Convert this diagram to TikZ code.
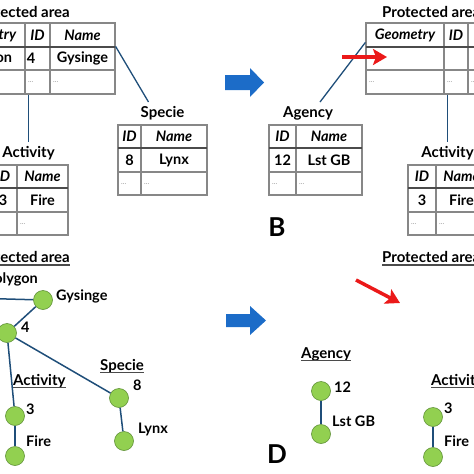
\documentclass[tikz,border=0pt]{standalone}
\usepackage{fontspec}
\setmainfont{Lato}
\usetikzlibrary{arrows.meta}

\definecolor{tblgray}{RGB}{135,135,135}
\definecolor{hdgray}{RGB}{75,75,75}
\definecolor{linkblue}{RGB}{31,78,121}
\definecolor{blockblue}{RGB}{28,108,200}
\definecolor{leafgreen}{RGB}{146,208,80}
\definecolor{leafedge}{RGB}{95,145,55}
\definecolor{arrred}{RGB}{235,25,25}

\tikzset{
	tbl/.style={draw=tblgray, line width=1.2pt, inner sep=0pt},
	grid/.style={draw=tblgray, line width=1.2pt},
	hdline/.style={draw=hdgray, line width=1.8pt},
	ttl/.style={font=\fontsize{15}{17}\selectfont\bfseries, inner sep=0pt},
	hd/.style={font=\fontsize{14.5}{16}\selectfont\bfseries\itshape, inner sep=0pt},
	cell/.style={font=\fontsize{14.5}{16}\selectfont\bfseries, inner sep=0pt},
	dots/.style={font=\fontsize{7}{8}\selectfont, text=tblgray, inner sep=0pt, anchor=west},
	conn/.style={draw=linkblue, line width=1.3pt},
	vert/.style={circle, fill=leafgreen, draw=leafedge, line width=0.6pt, minimum size=19pt, inner sep=0pt},
	edge/.style={draw=linkblue, line width=1.5pt},
	lbl/.style={font=\fontsize{14.5}{16}\selectfont\bfseries, inner sep=0pt, anchor=west},
	uline/.style={draw=hdgray, line width=1.2pt},
	bigarrow/.style={fill=blockblue},
	redarrow/.style={draw=arrred, line width=3.5pt, -{Triangle[length=14pt,width=16pt,inset=3pt]}},
	panel/.style={font=\fontsize{26}{28}\selectfont\bfseries, inner sep=0pt},
}

\begin{document}
\begin{tikzpicture}[x=1pt,y=-1pt]
	\useasboundingbox (0,0) rectangle (474,474);
	\clip (0,0) rectangle (474,474);

	% A: tables
	\node[tbl, minimum width=168pt, minimum height=71pt] (paA) at (31,58.5) {};
	\draw[grid] (25,23) -- (25,94) (50,23) -- (50,94) (-53,70) -- (115,70);
	\draw[hdline] (-53,47) -- (115,47);
	\node[ttl, anchor=east] (paAt) at (70,12) {Protected area};
	\node[hd] (paAg) at (-14,35) {Geometry};
	\node[hd] (paAi) at (37.5,35) {ID};
	\node[hd] (paAn) at (82.5,35) {Name};
	\node[cell] (paAv1) at (-14,58.5) {Polygon};
	\node[cell] (paAv2) at (31,58.5) {4};
	\node[cell] (paAv3) at (82.5,58.5) {Gysinge};
	\node[dots] (paAd1) at (-50,82) {...};
	\node[dots] (paAd2) at (28,82) {...};
	\node[dots] (paAd3) at (53,82) {...};

	\node[tbl, minimum width=89pt, minimum height=70pt] (spA) at (162.5,160) {};
	\draw[grid] (141,125) -- (141,195) (118,172) -- (207,172);
	\draw[hdline] (118,148) -- (207,148);
	\node[ttl] (spAt) at (162.5,113) {Specie};
	\node[hd] (spAi) at (129.5,136.5) {ID};
	\node[hd] (spAn) at (174,136.5) {Name};
	\node[cell] (spAv1) at (129.5,160) {8};
	\node[cell] (spAv2) at (174,160) {Lynx};
	\node[dots] (spAd1) at (121,184) {...};
	\node[dots] (spAd2) at (144,184) {...};

	\node[tbl, minimum width=79pt, minimum height=70pt] (acA) at (28.5,200) {};
	\draw[grid] (17,165) -- (17,235) (-11,212) -- (68,212);
	\draw[hdline] (-11,188) -- (68,188);
	\node[ttl] (acAt) at (28.5,153) {Activity};
	\node[hd] (acAi) at (3,176.5) {ID};
	\node[hd] (acAn) at (42.5,176.5) {Name};
	\node[cell] (acAv1) at (3,200) {3};
	\node[cell] (acAv2) at (42.5,200) {Fire};
	\node[dots] (acAd1) at (-8,224) {...};
	\node[dots] (acAd2) at (20,224) {...};

	\draw[conn] ([yshift=-24pt]paA.north east) -- ([xshift=-14pt,yshift=4pt]spAt.north);
	\draw[conn] (paA.south -| acAt) -- ([yshift=4pt]acAt.north);

	% arrow A to B
	\fill[bigarrow] (225,75) -- (250,75) -- (250,68) -- (264,82.5) -- (250,97) -- (250,90) -- (225,90) -- cycle;

	% B: tables
	\node[tbl, minimum width=167pt, minimum height=71pt] (paB) at (449.5,58.5) {};
	\draw[grid] (444,23) -- (444,94) (468,23) -- (468,94) (366,70) -- (533,70);
	\draw[hdline] (366,47) -- (533,47);
	\node[ttl, anchor=west] (paBt) at (382,12) {Protected area};
	\node[hd] (paBg) at (405,35) {Geometry};
	\node[hd] (paBi) at (456,35) {ID};
	\node[hd] (paBn) at (500.5,35) {Name};
	\node[dots] (paBd1) at (369,82) {...};
	\node[dots] (paBd2) at (447,82) {...};
	\node[dots] (paBd3) at (471,82) {...};

	\node[tbl, minimum width=93pt, minimum height=70pt] (agB) at (315.5,160) {};
	\draw[grid] (296,125) -- (296,195) (269,172) -- (362,172);
	\draw[hdline] (269,148) -- (362,148);
	\node[ttl] (agBt) at (308,113) {Agency};
	\node[hd] (agBi) at (282.5,136.5) {ID};
	\node[hd] (agBn) at (329,136.5) {Name};
	\node[cell] (agBv1) at (282.5,160) {12};
	\node[cell] (agBv2) at (329,160) {Lst GB};
	\node[dots] (agBd1) at (272,184) {...};
	\node[dots] (agBd2) at (299,184) {...};

	\node[tbl, minimum width=79pt, minimum height=70pt] (acB) at (447.5,200) {};
	\draw[grid] (436,165) -- (436,235) (408,212) -- (487,212);
	\draw[hdline] (408,188) -- (487,188);
	\node[ttl] (acBt) at (447.5,153) {Activity};
	\node[hd] (acBi) at (422,176.5) {ID};
	\node[hd] (acBn) at (461.5,176.5) {Name};
	\node[cell] (acBv1) at (422,200) {3};
	\node[cell] (acBv2) at (461.5,200) {Fire};
	\node[dots] (acBd1) at (411,224) {...};
	\node[dots] (acBd2) at (439,224) {...};

	\draw[conn] ([xshift=12pt,yshift=4pt]agBt.north) -- ([yshift=-20pt]paB.north west);
	\draw[conn] (paB.south -| acBt) -- ([yshift=4pt]acBt.north);

	\coordinate (redB1) at (342,57);
	\coordinate (redB2) at (387,57);
	\draw[redarrow] (redB1) -- (redB2);
	\node[panel] (labB) at (277,227) {B};

	% C: graph
	\node[ttl, anchor=east] (paCt) at (70,257) {Protected area};
	\draw[uline] ([yshift=-2.5pt]paCt.base west) -- ([yshift=-2.5pt]paCt.base east);
	\node[ttl, anchor=west] (acCt) at (13,381) {Activity};
	\draw[uline] ([yshift=-2.5pt]acCt.base west) -- ([yshift=-2.5pt]acCt.base east);
	\node[ttl, anchor=west] (spCt) at (100,366) {Specie};
	\draw[uline] ([yshift=-2.5pt]spCt.base west) -- ([yshift=-2.5pt]spCt.base east);

	\node[vert] (pol) at (-30,298) {};
	\node[vert] (gys) at (43,300) {};
	\node[vert] (c4) at (7,333) {};
	\node[vert] (c3) at (15,416) {};
	\node[vert] (cfire) at (15,456) {};
	\node[vert] (c8) at (119,398) {};
	\node[vert] (lynx) at (124,441) {};
	\draw[edge] (pol) -- (gys);
	\draw[edge] (gys) -- (c4);
	\draw[edge] (c4) -- (c3);
	\draw[edge] (c3) -- (cfire);
	\draw[edge] (c4) -- (c8);
	\draw[edge] (c8) -- (lynx);
	\node[lbl, anchor=east] (polL) at (38,279) {Polygon};
	\node[lbl] (gysL) at (56,296) {Gysinge};
	\node[lbl] (c4L) at (21,327) {4};
	\node[lbl] (c3L) at (26,409) {3};
	\node[lbl] (cfireL) at (26,441) {Fire};
	\node[lbl] (c8L) at (133,385) {8};
	\node[lbl] (lynxL) at (138,429) {Lynx};

	% arrow C to D
	\fill[bigarrow] (226,314) -- (250,314) -- (250,306) -- (266,320.5) -- (250,335) -- (250,327) -- (226,327) -- cycle;

	% D: graph
	\node[ttl, anchor=west] (paDt) at (382,257) {Protected area};
	\draw[uline] ([yshift=-2.5pt]paDt.base west) -- ([yshift=-2.5pt]paDt.base east);
	\node[ttl, anchor=west] (agDt) at (301,354) {Agency};
	\draw[uline] ([yshift=-2.5pt]agDt.base west) -- ([yshift=-2.5pt]agDt.base east);
	\node[ttl, anchor=west] (acDt) at (431,381) {Activity};
	\draw[uline] ([yshift=-2.5pt]acDt.base west) -- ([yshift=-2.5pt]acDt.base east);

	\node[vert] (d12) at (321,391) {};
	\node[vert] (dlst) at (321,434) {};
	\node[vert] (d3) at (433,417) {};
	\node[vert] (dfire) at (433,457) {};
	\draw[edge] (d12) -- (dlst);
	\draw[edge] (d3) -- (dfire);
	\node[lbl] (d12L) at (334,387) {12};
	\node[lbl] (dlstL) at (332,421) {Lst GB};
	\node[lbl] (d3L) at (444,408) {3};
	\node[lbl] (dfireL) at (444,441) {Fire};

	\coordinate (redD1) at (356,280);
	\coordinate (redD2) at (400,303);
	\draw[redarrow] (redD1) -- (redD2);
	\node[panel] (labD) at (277,454) {D};
\end{tikzpicture}
\end{document}
